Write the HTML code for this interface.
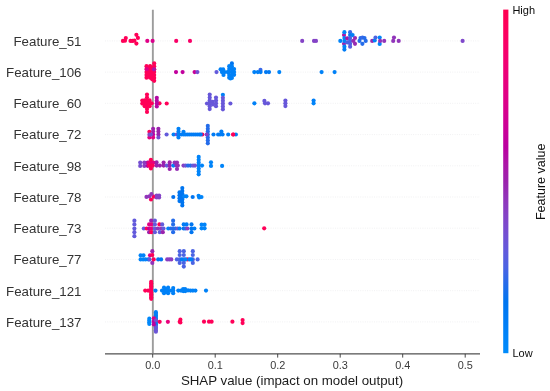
<!DOCTYPE html>
<html><head><meta charset="utf-8"><title>SHAP summary</title>
<style>
html,body{margin:0;padding:0;background:#fff;}
body{width:550px;height:391px;overflow:hidden;position:relative;font-family:"Liberation Sans",sans-serif;}
svg{position:absolute;left:0;top:0;}
text{font-family:"Liberation Sans",sans-serif;}
</style></head><body>
<svg width="550" height="391" viewBox="0 0 550 391">
<defs><linearGradient id="cb" x1="0" y1="0" x2="0" y2="1">
<stop offset="0.00" stop-color="#ff0051"/><stop offset="0.05" stop-color="#fe005c"/><stop offset="0.10" stop-color="#f90067"/><stop offset="0.15" stop-color="#f20072"/><stop offset="0.20" stop-color="#e9007c"/><stop offset="0.25" stop-color="#e00086"/><stop offset="0.30" stop-color="#d5008f"/><stop offset="0.35" stop-color="#c90098"/><stop offset="0.40" stop-color="#bb00a0"/><stop offset="0.45" stop-color="#ac16a7"/><stop offset="0.50" stop-color="#9b23ad"/><stop offset="0.55" stop-color="#9135ba"/><stop offset="0.60" stop-color="#8443c6"/><stop offset="0.65" stop-color="#754fd1"/><stop offset="0.70" stop-color="#635adb"/><stop offset="0.75" stop-color="#4b63e3"/><stop offset="0.80" stop-color="#246cea"/><stop offset="0.85" stop-color="#0075f0"/><stop offset="0.90" stop-color="#007cf5"/><stop offset="0.95" stop-color="#0084f9"/><stop offset="1.00" stop-color="#008bfb"/>
</linearGradient></defs>
<rect width="550" height="391" fill="#fff"/>
<line x1="105" x2="480" y1="40.9" y2="40.9" stroke="#dcdce0" stroke-width="0.8" stroke-dasharray="0.9 1.4" opacity="0.55"/>
<line x1="105" x2="480" y1="72.1" y2="72.1" stroke="#dcdce0" stroke-width="0.8" stroke-dasharray="0.9 1.4" opacity="0.55"/>
<line x1="105" x2="480" y1="103.3" y2="103.3" stroke="#dcdce0" stroke-width="0.8" stroke-dasharray="0.9 1.4" opacity="0.55"/>
<line x1="105" x2="480" y1="134.6" y2="134.6" stroke="#dcdce0" stroke-width="0.8" stroke-dasharray="0.9 1.4" opacity="0.55"/>
<line x1="105" x2="480" y1="165.8" y2="165.8" stroke="#dcdce0" stroke-width="0.8" stroke-dasharray="0.9 1.4" opacity="0.55"/>
<line x1="105" x2="480" y1="197.0" y2="197.0" stroke="#dcdce0" stroke-width="0.8" stroke-dasharray="0.9 1.4" opacity="0.55"/>
<line x1="105" x2="480" y1="228.2" y2="228.2" stroke="#dcdce0" stroke-width="0.8" stroke-dasharray="0.9 1.4" opacity="0.55"/>
<line x1="105" x2="480" y1="259.4" y2="259.4" stroke="#dcdce0" stroke-width="0.8" stroke-dasharray="0.9 1.4" opacity="0.55"/>
<line x1="105" x2="480" y1="290.7" y2="290.7" stroke="#dcdce0" stroke-width="0.8" stroke-dasharray="0.9 1.4" opacity="0.55"/>
<line x1="105" x2="480" y1="321.9" y2="321.9" stroke="#dcdce0" stroke-width="0.8" stroke-dasharray="0.9 1.4" opacity="0.55"/>
<line x1="152.85" x2="152.85" y1="9.8" y2="353" stroke="#9c9c9c" stroke-width="1.9"/>
<circle cx="122.9" cy="40.9" r="2.08" fill="#ff0058"/><circle cx="125.0" cy="40.7" r="2.08" fill="#ff0058"/><circle cx="125.8" cy="38.0" r="2.08" fill="#ff0058"/><circle cx="130.5" cy="40.9" r="2.08" fill="#ff0058"/><circle cx="132.4" cy="40.9" r="2.08" fill="#ff0058"/><circle cx="134.4" cy="40.7" r="2.08" fill="#ff0058"/><circle cx="136.4" cy="34.8" r="2.08" fill="#ff0058"/><circle cx="137.9" cy="37.9" r="2.08" fill="#ff0058"/><circle cx="136.4" cy="43.6" r="2.08" fill="#ff0058"/><circle cx="147.3" cy="40.9" r="2.08" fill="#e00086"/><circle cx="152.6" cy="40.9" r="2.08" fill="#d9008c"/><circle cx="176.2" cy="40.9" r="2.08" fill="#f90067"/><circle cx="190.0" cy="40.9" r="2.08" fill="#f90067"/><circle cx="302.2" cy="40.9" r="2.08" fill="#8443c6"/><circle cx="314.0" cy="40.9" r="2.08" fill="#8443c6"/><circle cx="316.0" cy="40.9" r="2.08" fill="#8443c6"/><circle cx="340.3" cy="40.9" r="2.08" fill="#0084f9"/><circle cx="344.0" cy="35.1" r="2.08" fill="#ac16a7"/><circle cx="344.0" cy="43.8" r="2.08" fill="#9b23ad"/><circle cx="344.4" cy="32.2" r="2.08" fill="#0084f9"/><circle cx="344.4" cy="38.0" r="2.08" fill="#0084f9"/><circle cx="344.4" cy="40.9" r="2.08" fill="#0084f9"/><circle cx="344.4" cy="46.7" r="2.08" fill="#0084f9"/><circle cx="344.4" cy="49.6" r="2.08" fill="#007cf5"/><circle cx="347.3" cy="38.3" r="2.08" fill="#ac16a7"/><circle cx="347.3" cy="42.4" r="2.08" fill="#4b63e3"/><circle cx="350.1" cy="32.2" r="2.08" fill="#3769e8"/><circle cx="350.1" cy="35.1" r="2.08" fill="#0079f3"/><circle cx="350.1" cy="38.0" r="2.08" fill="#4b63e3"/><circle cx="350.1" cy="40.9" r="2.08" fill="#4b63e3"/><circle cx="350.1" cy="43.8" r="2.08" fill="#4b63e3"/><circle cx="350.1" cy="46.7" r="2.08" fill="#565fe0"/><circle cx="352.6" cy="35.1" r="2.08" fill="#007ff7"/><circle cx="355.0" cy="38.0" r="2.08" fill="#972bb2"/><circle cx="353.4" cy="40.9" r="2.08" fill="#972bb2"/><circle cx="355.0" cy="43.8" r="2.08" fill="#972bb2"/><circle cx="359.5" cy="40.9" r="2.08" fill="#246cea"/><circle cx="360.5" cy="38.0" r="2.08" fill="#246cea"/><circle cx="362.4" cy="43.8" r="2.08" fill="#246cea"/><circle cx="362.5" cy="37.6" r="2.08" fill="#3769e8"/><circle cx="364.5" cy="38.0" r="2.08" fill="#246cea"/><circle cx="365.7" cy="40.9" r="2.08" fill="#246cea"/><circle cx="372.2" cy="40.9" r="2.08" fill="#972bb2"/><circle cx="374.7" cy="40.4" r="2.08" fill="#0084f9"/><circle cx="375.5" cy="37.5" r="2.08" fill="#4b63e3"/><circle cx="379.7" cy="37.5" r="2.08" fill="#0084f9"/><circle cx="379.7" cy="43.9" r="2.08" fill="#0086fa"/><circle cx="380.1" cy="40.9" r="2.08" fill="#9135ba"/><circle cx="384.2" cy="40.9" r="2.08" fill="#9135ba"/><circle cx="394.0" cy="37.5" r="2.08" fill="#9135ba"/><circle cx="393.2" cy="40.9" r="2.08" fill="#9135ba"/><circle cx="398.7" cy="40.9" r="2.08" fill="#9135ba"/><circle cx="462.6" cy="40.9" r="2.08" fill="#7f48cb"/>
<circle cx="146.5" cy="66.2" r="2.08" fill="#ff0058"/><circle cx="146.5" cy="69.1" r="2.08" fill="#ff0058"/><circle cx="146.5" cy="72.1" r="2.08" fill="#ff0058"/><circle cx="146.5" cy="74.9" r="2.08" fill="#ff0058"/><circle cx="146.5" cy="77.7" r="2.08" fill="#ff0058"/><circle cx="150.1" cy="66.2" r="2.08" fill="#ff0058"/><circle cx="150.1" cy="69.1" r="2.08" fill="#ff0058"/><circle cx="150.1" cy="72.1" r="2.08" fill="#ff0058"/><circle cx="150.1" cy="74.9" r="2.08" fill="#ff0058"/><circle cx="150.1" cy="77.7" r="2.08" fill="#ff0058"/><circle cx="148.3" cy="67.7" r="2.08" fill="#ff0058"/><circle cx="148.3" cy="70.6" r="2.08" fill="#ff0058"/><circle cx="148.3" cy="73.5" r="2.08" fill="#ff0058"/><circle cx="148.3" cy="76.4" r="2.08" fill="#ff0058"/><circle cx="154.2" cy="63.4" r="2.08" fill="#ff0058"/><circle cx="154.2" cy="66.3" r="2.08" fill="#ff0058"/><circle cx="154.2" cy="69.2" r="2.08" fill="#ff0058"/><circle cx="154.2" cy="72.1" r="2.08" fill="#ff0058"/><circle cx="154.2" cy="75.0" r="2.08" fill="#ff0058"/><circle cx="154.2" cy="77.9" r="2.08" fill="#ff0058"/><circle cx="154.2" cy="80.8" r="2.08" fill="#ff0058"/><circle cx="152.2" cy="67.7" r="2.08" fill="#ff0058"/><circle cx="152.2" cy="70.6" r="2.08" fill="#ff0058"/><circle cx="152.2" cy="73.5" r="2.08" fill="#ff0058"/><circle cx="152.2" cy="76.4" r="2.08" fill="#ff0058"/><circle cx="152.2" cy="79.3" r="2.08" fill="#ff0058"/><circle cx="146.8" cy="69.2" r="2.08" fill="#e00086"/><circle cx="154.0" cy="69.3" r="2.08" fill="#ac16a7"/><circle cx="176.0" cy="72.1" r="2.08" fill="#c1009d"/><circle cx="182.6" cy="72.1" r="2.08" fill="#c1009d"/><circle cx="194.6" cy="72.1" r="2.08" fill="#c90098"/><circle cx="197.4" cy="72.1" r="2.08" fill="#754fd1"/><circle cx="216.5" cy="72.1" r="2.08" fill="#635adb"/><circle cx="220.6" cy="69.3" r="2.08" fill="#0081f7"/><circle cx="221.9" cy="72.1" r="2.08" fill="#0081f7"/><circle cx="223.1" cy="69.3" r="2.08" fill="#0081f7"/><circle cx="223.5" cy="75.0" r="2.08" fill="#0081f7"/><circle cx="224.7" cy="72.1" r="2.08" fill="#0081f7"/><circle cx="227.6" cy="72.1" r="2.08" fill="#0081f7"/><circle cx="229.2" cy="66.2" r="2.08" fill="#0081f7"/><circle cx="229.2" cy="69.1" r="2.08" fill="#0081f7"/><circle cx="229.2" cy="72.1" r="2.08" fill="#0081f7"/><circle cx="229.2" cy="75.1" r="2.08" fill="#0081f7"/><circle cx="229.2" cy="77.7" r="2.08" fill="#0081f7"/><circle cx="231.9" cy="63.4" r="2.08" fill="#0075f0"/><circle cx="231.9" cy="66.3" r="2.08" fill="#0081f7"/><circle cx="231.9" cy="69.2" r="2.08" fill="#0081f7"/><circle cx="231.9" cy="72.1" r="2.08" fill="#0081f7"/><circle cx="231.9" cy="75.0" r="2.08" fill="#0081f7"/><circle cx="231.9" cy="77.9" r="2.08" fill="#0081f7"/><circle cx="230.5" cy="78.5" r="2.08" fill="#0081f7"/><circle cx="234.1" cy="69.1" r="2.08" fill="#0081f7"/><circle cx="234.1" cy="72.1" r="2.08" fill="#0081f7"/><circle cx="234.1" cy="74.8" r="2.08" fill="#0081f7"/><circle cx="254.3" cy="72.1" r="2.08" fill="#0081f7"/><circle cx="257.8" cy="72.1" r="2.08" fill="#0081f7"/><circle cx="260.5" cy="69.9" r="2.08" fill="#3769e8"/><circle cx="260.6" cy="72.1" r="2.08" fill="#007cf5"/><circle cx="266.0" cy="72.1" r="2.08" fill="#0079f3"/><circle cx="269.0" cy="72.1" r="2.08" fill="#0079f3"/><circle cx="279.3" cy="72.1" r="2.08" fill="#0084f9"/><circle cx="321.6" cy="72.1" r="2.08" fill="#0081f7"/><circle cx="334.6" cy="72.1" r="2.08" fill="#0081f7"/>
<circle cx="147.0" cy="94.6" r="2.08" fill="#ff0058"/><circle cx="147.0" cy="97.5" r="2.08" fill="#ff0058"/><circle cx="147.0" cy="100.4" r="2.08" fill="#ff0058"/><circle cx="147.0" cy="103.3" r="2.08" fill="#ff0058"/><circle cx="147.0" cy="106.2" r="2.08" fill="#ff0058"/><circle cx="147.0" cy="109.1" r="2.08" fill="#ff0058"/><circle cx="147.0" cy="112.0" r="2.08" fill="#ff0058"/><circle cx="142.3" cy="100.5" r="2.08" fill="#ff0058"/><circle cx="142.3" cy="103.6" r="2.08" fill="#ff0058"/><circle cx="144.7" cy="100.4" r="2.08" fill="#ff0058"/><circle cx="144.7" cy="103.3" r="2.08" fill="#ff0058"/><circle cx="144.7" cy="106.2" r="2.08" fill="#ff0058"/><circle cx="149.6" cy="100.4" r="2.08" fill="#ff0058"/><circle cx="149.6" cy="103.3" r="2.08" fill="#ff0058"/><circle cx="149.6" cy="106.2" r="2.08" fill="#ff0058"/><circle cx="151.7" cy="103.3" r="2.08" fill="#ff0058"/><circle cx="159.5" cy="103.3" r="2.08" fill="#ff0058"/><circle cx="166.7" cy="103.5" r="2.08" fill="#ff0058"/><circle cx="156.8" cy="97.8" r="2.08" fill="#b509a3"/><circle cx="156.8" cy="100.7" r="2.08" fill="#b509a3"/><circle cx="156.8" cy="103.5" r="2.08" fill="#b509a3"/><circle cx="156.8" cy="106.4" r="2.08" fill="#b509a3"/><circle cx="209.7" cy="94.6" r="2.08" fill="#6757d9"/><circle cx="209.7" cy="97.5" r="2.08" fill="#6757d9"/><circle cx="209.7" cy="100.4" r="2.08" fill="#6757d9"/><circle cx="209.7" cy="103.3" r="2.08" fill="#6757d9"/><circle cx="209.7" cy="106.2" r="2.08" fill="#6757d9"/><circle cx="209.7" cy="109.1" r="2.08" fill="#6757d9"/><circle cx="207.0" cy="103.5" r="2.08" fill="#6757d9"/><circle cx="212.7" cy="101.8" r="2.08" fill="#6757d9"/><circle cx="212.9" cy="104.5" r="2.08" fill="#6757d9"/><circle cx="216.0" cy="97.5" r="2.08" fill="#6757d9"/><circle cx="216.0" cy="100.4" r="2.08" fill="#6757d9"/><circle cx="216.0" cy="103.3" r="2.08" fill="#6757d9"/><circle cx="216.0" cy="106.2" r="2.08" fill="#6757d9"/><circle cx="222.9" cy="94.8" r="2.08" fill="#0081f7"/><circle cx="222.9" cy="97.8" r="2.08" fill="#6757d9"/><circle cx="222.9" cy="100.7" r="2.08" fill="#6757d9"/><circle cx="222.9" cy="103.5" r="2.08" fill="#6757d9"/><circle cx="222.9" cy="106.4" r="2.08" fill="#6757d9"/><circle cx="222.9" cy="109.3" r="2.08" fill="#6757d9"/><circle cx="230.4" cy="103.5" r="2.08" fill="#6757d9"/><circle cx="254.4" cy="103.3" r="2.08" fill="#0081f7"/><circle cx="264.4" cy="100.9" r="2.08" fill="#6757d9"/><circle cx="265.0" cy="103.3" r="2.08" fill="#6757d9"/><circle cx="268.0" cy="103.3" r="2.08" fill="#6757d9"/><circle cx="285.4" cy="100.5" r="2.08" fill="#6757d9"/><circle cx="285.4" cy="103.3" r="2.08" fill="#6757d9"/><circle cx="285.4" cy="106.1" r="2.08" fill="#6757d9"/><circle cx="313.6" cy="100.5" r="2.08" fill="#007ff7"/><circle cx="313.6" cy="103.3" r="2.08" fill="#0084f9"/>
<circle cx="202.3" cy="134.5" r="2.08" fill="#ff0058"/><circle cx="233.2" cy="134.5" r="2.08" fill="#ff0058"/><circle cx="149.4" cy="131.8" r="2.08" fill="#ff0058"/><circle cx="149.4" cy="137.5" r="2.08" fill="#e9007c"/><circle cx="153.1" cy="128.8" r="2.08" fill="#9b23ad"/><circle cx="153.1" cy="131.6" r="2.08" fill="#a21fab"/><circle cx="153.1" cy="134.5" r="2.08" fill="#bb00a0"/><circle cx="153.1" cy="137.5" r="2.08" fill="#e00086"/><circle cx="149.4" cy="134.7" r="2.08" fill="#8443c6"/><circle cx="151.0" cy="134.5" r="2.08" fill="#754fd1"/><circle cx="158.4" cy="128.8" r="2.08" fill="#9b23ad"/><circle cx="158.4" cy="131.6" r="2.08" fill="#9b23ad"/><circle cx="158.4" cy="134.5" r="2.08" fill="#9b23ad"/><circle cx="158.4" cy="137.5" r="2.08" fill="#754fd1"/><circle cx="166.6" cy="134.5" r="2.08" fill="#635adb"/><circle cx="173.6" cy="134.5" r="2.08" fill="#0081f7"/><circle cx="176.8" cy="134.5" r="2.08" fill="#754fd1"/><circle cx="178.5" cy="128.8" r="2.08" fill="#0081f7"/><circle cx="178.5" cy="131.6" r="2.08" fill="#0081f7"/><circle cx="178.5" cy="134.5" r="2.08" fill="#0081f7"/><circle cx="178.5" cy="137.5" r="2.08" fill="#0081f7"/><circle cx="181.5" cy="134.5" r="2.08" fill="#007cf5"/><circle cx="185.5" cy="134.5" r="2.08" fill="#007cf5"/><circle cx="187.5" cy="134.5" r="2.08" fill="#007cf5"/><circle cx="189.5" cy="134.5" r="2.08" fill="#007cf5"/><circle cx="191.5" cy="134.5" r="2.08" fill="#007cf5"/><circle cx="193.5" cy="134.5" r="2.08" fill="#007cf5"/><circle cx="195.5" cy="134.5" r="2.08" fill="#007cf5"/><circle cx="197.5" cy="134.5" r="2.08" fill="#007cf5"/><circle cx="199.5" cy="134.5" r="2.08" fill="#007cf5"/><circle cx="200.8" cy="134.5" r="2.08" fill="#007cf5"/><circle cx="183.5" cy="131.8" r="2.08" fill="#007ff7"/><circle cx="183.6" cy="134.5" r="2.08" fill="#007ff7"/><circle cx="207.8" cy="125.9" r="2.08" fill="#246cea"/><circle cx="207.8" cy="128.8" r="2.08" fill="#246cea"/><circle cx="207.8" cy="131.6" r="2.08" fill="#246cea"/><circle cx="207.8" cy="134.5" r="2.08" fill="#246cea"/><circle cx="207.8" cy="137.5" r="2.08" fill="#246cea"/><circle cx="207.8" cy="140.4" r="2.08" fill="#246cea"/><circle cx="207.8" cy="143.3" r="2.08" fill="#246cea"/><circle cx="206.6" cy="134.5" r="2.08" fill="#8443c6"/><circle cx="213.5" cy="134.5" r="2.08" fill="#007cf5"/><circle cx="218.1" cy="134.5" r="2.08" fill="#007cf5"/><circle cx="220.1" cy="134.5" r="2.08" fill="#007cf5"/><circle cx="221.4" cy="131.6" r="2.08" fill="#007cf5"/><circle cx="222.6" cy="134.5" r="2.08" fill="#007cf5"/><circle cx="228.2" cy="134.5" r="2.08" fill="#007ff7"/><circle cx="235.9" cy="134.5" r="2.08" fill="#007ff7"/><circle cx="233.2" cy="134.5" r="2.08" fill="#ff0058"/>
<circle cx="140.2" cy="162.6" r="2.08" fill="#754fd1"/><circle cx="140.2" cy="165.9" r="2.08" fill="#754fd1"/><circle cx="144.3" cy="162.6" r="2.08" fill="#8a3ec1"/><circle cx="144.3" cy="165.9" r="2.08" fill="#8a3ec1"/><circle cx="147.6" cy="162.6" r="2.08" fill="#ac16a7"/><circle cx="147.6" cy="165.8" r="2.08" fill="#bb00a0"/><circle cx="150.9" cy="159.8" r="2.08" fill="#ff0058"/><circle cx="150.9" cy="162.7" r="2.08" fill="#ff0058"/><circle cx="150.9" cy="165.6" r="2.08" fill="#ff0058"/><circle cx="150.9" cy="168.5" r="2.08" fill="#ff0058"/><circle cx="148.8" cy="162.6" r="2.08" fill="#e9007c"/><circle cx="153.3" cy="162.6" r="2.08" fill="#e9007c"/><circle cx="149.2" cy="165.6" r="2.08" fill="#ff0058"/><circle cx="152.8" cy="165.6" r="2.08" fill="#ff0058"/><circle cx="156.6" cy="162.4" r="2.08" fill="#9b23ad"/><circle cx="156.6" cy="165.6" r="2.08" fill="#9b23ad"/><circle cx="159.9" cy="165.6" r="2.08" fill="#9b23ad"/><circle cx="163.6" cy="162.6" r="2.08" fill="#9b23ad"/><circle cx="163.6" cy="165.6" r="2.08" fill="#9b23ad"/><circle cx="166.8" cy="165.6" r="2.08" fill="#635adb"/><circle cx="169.7" cy="162.4" r="2.08" fill="#9b23ad"/><circle cx="169.7" cy="165.6" r="2.08" fill="#9b23ad"/><circle cx="169.7" cy="169.0" r="2.08" fill="#9b23ad"/><circle cx="173.4" cy="165.6" r="2.08" fill="#0084f9"/><circle cx="174.6" cy="162.6" r="2.08" fill="#9135ba"/><circle cx="177.0" cy="162.6" r="2.08" fill="#952fb5"/><circle cx="177.8" cy="165.6" r="2.08" fill="#952fb5"/><circle cx="177.0" cy="169.0" r="2.08" fill="#952fb5"/><circle cx="176.6" cy="165.6" r="2.08" fill="#952fb5"/><circle cx="183.5" cy="165.6" r="2.08" fill="#8a3ec1"/><circle cx="185.6" cy="165.6" r="2.08" fill="#6b55d7"/><circle cx="188.0" cy="165.6" r="2.08" fill="#246cea"/><circle cx="190.5" cy="165.6" r="2.08" fill="#246cea"/><circle cx="193.0" cy="165.6" r="2.08" fill="#635adb"/><circle cx="195.0" cy="165.6" r="2.08" fill="#754fd1"/><circle cx="198.7" cy="156.9" r="2.08" fill="#0084f9"/><circle cx="198.7" cy="159.8" r="2.08" fill="#0084f9"/><circle cx="198.7" cy="162.7" r="2.08" fill="#0084f9"/><circle cx="198.7" cy="165.6" r="2.08" fill="#0084f9"/><circle cx="198.7" cy="168.5" r="2.08" fill="#0084f9"/><circle cx="198.7" cy="171.4" r="2.08" fill="#0084f9"/><circle cx="198.7" cy="174.3" r="2.08" fill="#0084f9"/><circle cx="202.0" cy="165.6" r="2.08" fill="#0084f9"/><circle cx="211.0" cy="162.3" r="2.08" fill="#0084f9"/><circle cx="211.0" cy="165.9" r="2.08" fill="#0084f9"/><circle cx="222.1" cy="165.9" r="2.08" fill="#0084f9"/>
<circle cx="151.0" cy="199.5" r="2.08" fill="#ff0058"/><circle cx="153.8" cy="196.7" r="2.08" fill="#ff0058"/><circle cx="146.5" cy="196.9" r="2.08" fill="#9135ba"/><circle cx="149.3" cy="196.3" r="2.08" fill="#9135ba"/><circle cx="151.4" cy="194.0" r="2.08" fill="#9135ba"/><circle cx="156.7" cy="195.5" r="2.08" fill="#8443c6"/><circle cx="159.1" cy="195.5" r="2.08" fill="#8443c6"/><circle cx="156.7" cy="197.5" r="2.08" fill="#8443c6"/><circle cx="159.1" cy="197.5" r="2.08" fill="#8443c6"/><circle cx="173.3" cy="197.0" r="2.08" fill="#0070ed"/><circle cx="179.5" cy="192.4" r="2.08" fill="#0075f0"/><circle cx="179.5" cy="195.3" r="2.08" fill="#0075f0"/><circle cx="179.5" cy="198.2" r="2.08" fill="#0075f0"/><circle cx="179.5" cy="201.1" r="2.08" fill="#0075f0"/><circle cx="182.3" cy="188.0" r="2.08" fill="#0075f0"/><circle cx="182.3" cy="190.9" r="2.08" fill="#0075f0"/><circle cx="182.3" cy="193.8" r="2.08" fill="#0075f0"/><circle cx="182.3" cy="196.7" r="2.08" fill="#0075f0"/><circle cx="182.3" cy="199.6" r="2.08" fill="#0075f0"/><circle cx="182.3" cy="202.5" r="2.08" fill="#0075f0"/><circle cx="182.3" cy="205.4" r="2.08" fill="#0075f0"/><circle cx="184.3" cy="196.3" r="2.08" fill="#0084f9"/><circle cx="186.4" cy="196.3" r="2.08" fill="#0084f9"/><circle cx="192.7" cy="197.0" r="2.08" fill="#0075f0"/><circle cx="198.6" cy="195.8" r="2.08" fill="#0084f9"/><circle cx="199.2" cy="197.5" r="2.08" fill="#0084f9"/><circle cx="201.5" cy="197.0" r="2.08" fill="#0084f9"/>
<circle cx="134.4" cy="220.7" r="2.08" fill="#635adb"/><circle cx="134.4" cy="224.4" r="2.08" fill="#635adb"/><circle cx="134.4" cy="228.5" r="2.08" fill="#635adb"/><circle cx="134.4" cy="232.2" r="2.08" fill="#635adb"/><circle cx="134.4" cy="236.2" r="2.08" fill="#635adb"/><circle cx="143.8" cy="228.5" r="2.08" fill="#635adb"/><circle cx="146.7" cy="228.5" r="2.08" fill="#ff0058"/><circle cx="149.1" cy="224.4" r="2.08" fill="#e00086"/><circle cx="149.1" cy="232.2" r="2.08" fill="#9b23ad"/><circle cx="149.3" cy="228.5" r="2.08" fill="#bb00a0"/><circle cx="151.2" cy="220.7" r="2.08" fill="#9b23ad"/><circle cx="151.2" cy="224.4" r="2.08" fill="#e60080"/><circle cx="151.2" cy="228.5" r="2.08" fill="#e60080"/><circle cx="151.2" cy="232.2" r="2.08" fill="#ff0058"/><circle cx="154.9" cy="220.7" r="2.08" fill="#635adb"/><circle cx="154.9" cy="224.4" r="2.08" fill="#635adb"/><circle cx="154.9" cy="228.5" r="2.08" fill="#635adb"/><circle cx="154.9" cy="232.2" r="2.08" fill="#635adb"/><circle cx="159.4" cy="224.4" r="2.08" fill="#ff0058"/><circle cx="162.2" cy="224.4" r="2.08" fill="#635adb"/><circle cx="157.7" cy="228.5" r="2.08" fill="#9135ba"/><circle cx="161.0" cy="228.5" r="2.08" fill="#9135ba"/><circle cx="163.5" cy="228.5" r="2.08" fill="#635adb"/><circle cx="159.8" cy="232.2" r="2.08" fill="#635adb"/><circle cx="162.8" cy="232.2" r="2.08" fill="#9b23ad"/><circle cx="168.3" cy="228.5" r="2.08" fill="#0084f9"/><circle cx="173.1" cy="220.7" r="2.08" fill="#246cea"/><circle cx="173.1" cy="224.4" r="2.08" fill="#246cea"/><circle cx="173.1" cy="228.5" r="2.08" fill="#246cea"/><circle cx="173.1" cy="232.2" r="2.08" fill="#246cea"/><circle cx="170.8" cy="228.5" r="2.08" fill="#246cea"/><circle cx="175.4" cy="228.5" r="2.08" fill="#246cea"/><circle cx="177.6" cy="228.5" r="2.08" fill="#635adb"/><circle cx="179.6" cy="228.5" r="2.08" fill="#007cf5"/><circle cx="183.7" cy="224.4" r="2.08" fill="#007cf5"/><circle cx="186.6" cy="224.4" r="2.08" fill="#007cf5"/><circle cx="183.7" cy="228.5" r="2.08" fill="#0075f0"/><circle cx="185.5" cy="228.5" r="2.08" fill="#246cea"/><circle cx="187.4" cy="228.5" r="2.08" fill="#8a3ec1"/><circle cx="191.5" cy="224.4" r="2.08" fill="#0075f0"/><circle cx="191.5" cy="228.5" r="2.08" fill="#0075f0"/><circle cx="191.5" cy="232.2" r="2.08" fill="#0075f0"/><circle cx="194.4" cy="228.5" r="2.08" fill="#007cf5"/><circle cx="201.6" cy="224.7" r="2.08" fill="#0084f9"/><circle cx="204.6" cy="224.7" r="2.08" fill="#0084f9"/><circle cx="201.6" cy="228.3" r="2.08" fill="#0084f9"/><circle cx="204.6" cy="228.3" r="2.08" fill="#0084f9"/><circle cx="264.2" cy="228.3" r="2.08" fill="#ff0058"/>
<circle cx="187.5" cy="259.4" r="2.08" fill="#ff0058"/><circle cx="140.6" cy="255.3" r="2.08" fill="#0084f9"/><circle cx="143.5" cy="255.3" r="2.08" fill="#0084f9"/><circle cx="140.6" cy="259.4" r="2.08" fill="#0084f9"/><circle cx="143.1" cy="259.4" r="2.08" fill="#0084f9"/><circle cx="145.5" cy="259.4" r="2.08" fill="#0084f9"/><circle cx="148.4" cy="259.4" r="2.08" fill="#007cf5"/><circle cx="149.5" cy="259.4" r="2.08" fill="#635adb"/><circle cx="152.3" cy="251.2" r="2.08" fill="#9b23ad"/><circle cx="150.0" cy="255.3" r="2.08" fill="#e00086"/><circle cx="152.3" cy="255.0" r="2.08" fill="#ff0058"/><circle cx="152.3" cy="262.9" r="2.08" fill="#9135ba"/><circle cx="153.7" cy="259.4" r="2.08" fill="#ff0058"/><circle cx="158.2" cy="259.4" r="2.08" fill="#0075f0"/><circle cx="161.1" cy="259.4" r="2.08" fill="#0075f0"/><circle cx="167.2" cy="259.4" r="2.08" fill="#8a3ec1"/><circle cx="169.3" cy="259.4" r="2.08" fill="#8a3ec1"/><circle cx="171.3" cy="259.4" r="2.08" fill="#8a3ec1"/><circle cx="176.9" cy="259.4" r="2.08" fill="#4b63e3"/><circle cx="179.7" cy="251.2" r="2.08" fill="#4b63e3"/><circle cx="179.7" cy="255.0" r="2.08" fill="#4b63e3"/><circle cx="179.7" cy="259.4" r="2.08" fill="#4b63e3"/><circle cx="179.7" cy="262.9" r="2.08" fill="#4b63e3"/><circle cx="183.8" cy="251.2" r="2.08" fill="#4b63e3"/><circle cx="183.8" cy="255.0" r="2.08" fill="#4b63e3"/><circle cx="183.8" cy="259.4" r="2.08" fill="#4b63e3"/><circle cx="183.8" cy="262.9" r="2.08" fill="#4b63e3"/><circle cx="183.8" cy="266.6" r="2.08" fill="#4b63e3"/><circle cx="181.8" cy="259.4" r="2.08" fill="#007cf5"/><circle cx="185.5" cy="259.4" r="2.08" fill="#0084f9"/><circle cx="189.5" cy="259.4" r="2.08" fill="#0084f9"/><circle cx="192.8" cy="251.2" r="2.08" fill="#4b63e3"/><circle cx="192.8" cy="255.0" r="2.08" fill="#4b63e3"/><circle cx="192.8" cy="259.4" r="2.08" fill="#4b63e3"/><circle cx="192.8" cy="262.9" r="2.08" fill="#4b63e3"/><circle cx="191.2" cy="259.4" r="2.08" fill="#007cf5"/><circle cx="197.6" cy="259.4" r="2.08" fill="#4b63e3"/>
<circle cx="151.2" cy="281.8" r="2.08" fill="#ff0058"/><circle cx="151.2" cy="283.3" r="2.08" fill="#ff0058"/><circle cx="151.2" cy="284.9" r="2.08" fill="#ff0058"/><circle cx="151.2" cy="286.4" r="2.08" fill="#ff0058"/><circle cx="151.2" cy="288.0" r="2.08" fill="#ff0058"/><circle cx="151.2" cy="289.5" r="2.08" fill="#ff0058"/><circle cx="151.2" cy="291.1" r="2.08" fill="#ff0058"/><circle cx="151.2" cy="292.6" r="2.08" fill="#ff0058"/><circle cx="151.2" cy="294.2" r="2.08" fill="#ff0058"/><circle cx="151.2" cy="295.7" r="2.08" fill="#ff0058"/><circle cx="151.2" cy="297.3" r="2.08" fill="#ff0058"/><circle cx="151.2" cy="298.8" r="2.08" fill="#ff0058"/><circle cx="145.2" cy="290.6" r="2.08" fill="#ff0058"/><circle cx="148.1" cy="290.6" r="2.08" fill="#ff0058"/><circle cx="155.5" cy="290.6" r="2.08" fill="#0081f7"/><circle cx="162.0" cy="290.6" r="2.08" fill="#0081f7"/><circle cx="164.0" cy="287.7" r="2.08" fill="#0081f7"/><circle cx="164.0" cy="290.6" r="2.08" fill="#0081f7"/><circle cx="164.0" cy="293.2" r="2.08" fill="#0081f7"/><circle cx="166.0" cy="289.0" r="2.08" fill="#0081f7"/><circle cx="166.0" cy="291.7" r="2.08" fill="#0081f7"/><circle cx="168.1" cy="287.7" r="2.08" fill="#0081f7"/><circle cx="168.1" cy="290.6" r="2.08" fill="#0081f7"/><circle cx="168.1" cy="293.2" r="2.08" fill="#0081f7"/><circle cx="171.0" cy="290.6" r="2.08" fill="#0081f7"/><circle cx="173.2" cy="288.0" r="2.08" fill="#0081f7"/><circle cx="173.2" cy="290.6" r="2.08" fill="#0081f7"/><circle cx="173.2" cy="293.2" r="2.08" fill="#0081f7"/><circle cx="178.3" cy="290.6" r="2.08" fill="#0081f7"/><circle cx="181.0" cy="290.6" r="2.08" fill="#0081f7"/><circle cx="183.1" cy="289.2" r="2.08" fill="#0081f7"/><circle cx="185.1" cy="289.2" r="2.08" fill="#0081f7"/><circle cx="183.3" cy="291.1" r="2.08" fill="#0081f7"/><circle cx="185.3" cy="291.1" r="2.08" fill="#0081f7"/><circle cx="188.0" cy="290.4" r="2.08" fill="#0081f7"/><circle cx="190.5" cy="290.6" r="2.08" fill="#0081f7"/><circle cx="192.9" cy="290.6" r="2.08" fill="#0081f7"/><circle cx="195.4" cy="290.6" r="2.08" fill="#0081f7"/><circle cx="206.0" cy="290.6" r="2.08" fill="#0081f7"/>
<circle cx="149.3" cy="318.7" r="2.08" fill="#0088fa"/><circle cx="149.3" cy="320.5" r="2.08" fill="#0088fa"/><circle cx="149.3" cy="322.3" r="2.08" fill="#0088fa"/><circle cx="149.3" cy="323.9" r="2.08" fill="#0088fa"/><circle cx="155.9" cy="312.2" r="2.08" fill="#007ff7"/><circle cx="155.9" cy="313.7" r="2.08" fill="#007ff7"/><circle cx="155.9" cy="315.2" r="2.08" fill="#007ff7"/><circle cx="155.9" cy="316.7" r="2.08" fill="#007ff7"/><circle cx="155.9" cy="318.2" r="2.08" fill="#007ff7"/><circle cx="155.9" cy="319.7" r="2.08" fill="#007ff7"/><circle cx="155.9" cy="321.2" r="2.08" fill="#007ff7"/><circle cx="155.9" cy="322.7" r="2.08" fill="#007ff7"/><circle cx="155.9" cy="324.2" r="2.08" fill="#0079f3"/><circle cx="155.9" cy="325.7" r="2.08" fill="#246cea"/><circle cx="155.9" cy="327.2" r="2.08" fill="#635adb"/><circle cx="155.9" cy="328.7" r="2.08" fill="#635adb"/><circle cx="155.9" cy="330.2" r="2.08" fill="#6b55d7"/><circle cx="155.9" cy="331.7" r="2.08" fill="#6b55d7"/><circle cx="153.8" cy="318.3" r="2.08" fill="#e00086"/><circle cx="153.8" cy="321.6" r="2.08" fill="#bb00a0"/><circle cx="153.8" cy="324.5" r="2.08" fill="#bb00a0"/><circle cx="156.0" cy="320.3" r="2.08" fill="#754fd1"/><circle cx="159.7" cy="321.8" r="2.08" fill="#fc0061"/><circle cx="167.9" cy="321.8" r="2.08" fill="#e9007c"/><circle cx="179.7" cy="321.8" r="2.08" fill="#ff0058"/><circle cx="180.4" cy="319.7" r="2.08" fill="#ff0058"/><circle cx="180.4" cy="322.5" r="2.08" fill="#ff0058"/><circle cx="204.0" cy="321.7" r="2.08" fill="#ff0058"/><circle cx="209.0" cy="321.7" r="2.08" fill="#ff0058"/><circle cx="211.6" cy="321.7" r="2.08" fill="#ff0058"/><circle cx="232.4" cy="321.7" r="2.08" fill="#ff0058"/><circle cx="242.6" cy="320.1" r="2.08" fill="#ff0058"/><circle cx="242.6" cy="323.1" r="2.08" fill="#ff0058"/>
<line x1="105" x2="480" y1="353.9" y2="353.9" stroke="#262626" stroke-width="1"/>
<line x1="152.7" x2="152.7" y1="353.9" y2="357.6" stroke="#333" stroke-width="0.9"/><text x="152.7" y="369.3" font-size="10.9" fill="#3a3a3a" text-anchor="middle">0.0</text>
<line x1="215.2" x2="215.2" y1="353.9" y2="357.6" stroke="#333" stroke-width="0.9"/><text x="215.2" y="369.3" font-size="10.9" fill="#3a3a3a" text-anchor="middle">0.1</text>
<line x1="277.7" x2="277.7" y1="353.9" y2="357.6" stroke="#333" stroke-width="0.9"/><text x="277.7" y="369.3" font-size="10.9" fill="#3a3a3a" text-anchor="middle">0.2</text>
<line x1="340.2" x2="340.2" y1="353.9" y2="357.6" stroke="#333" stroke-width="0.9"/><text x="340.2" y="369.3" font-size="10.9" fill="#3a3a3a" text-anchor="middle">0.3</text>
<line x1="402.7" x2="402.7" y1="353.9" y2="357.6" stroke="#333" stroke-width="0.9"/><text x="402.7" y="369.3" font-size="10.9" fill="#3a3a3a" text-anchor="middle">0.4</text>
<line x1="465.2" x2="465.2" y1="353.9" y2="357.6" stroke="#333" stroke-width="0.9"/><text x="465.2" y="369.3" font-size="10.9" fill="#3a3a3a" text-anchor="middle">0.5</text>
<text x="292" y="385.4" font-size="13.3" fill="#1c1c1c" text-anchor="middle">SHAP value (impact on model output)</text>
<text x="81.5" y="45.7" font-size="13.3" fill="#333" text-anchor="end">Feature_51</text>
<text x="81.5" y="76.9" font-size="13.3" fill="#333" text-anchor="end">Feature_106</text>
<text x="81.5" y="108.1" font-size="13.3" fill="#333" text-anchor="end">Feature_60</text>
<text x="81.5" y="139.4" font-size="13.3" fill="#333" text-anchor="end">Feature_72</text>
<text x="81.5" y="170.6" font-size="13.3" fill="#333" text-anchor="end">Feature_98</text>
<text x="81.5" y="201.8" font-size="13.3" fill="#333" text-anchor="end">Feature_78</text>
<text x="81.5" y="233.0" font-size="13.3" fill="#333" text-anchor="end">Feature_73</text>
<text x="81.5" y="264.2" font-size="13.3" fill="#333" text-anchor="end">Feature_77</text>
<text x="81.5" y="295.5" font-size="13.3" fill="#333" text-anchor="end">Feature_121</text>
<text x="81.5" y="326.7" font-size="13.3" fill="#333" text-anchor="end">Feature_137</text>
<rect x="503.2" y="9.6" width="5.2" height="343.6" fill="url(#cb)"/>
<text x="512.4" y="14" font-size="11" fill="#0a0a0a">High</text>
<text x="512.4" y="357.1" font-size="11" fill="#0a0a0a">Low</text>
<text transform="translate(544.7,181.8) rotate(-90)" font-size="12.5" fill="#111" text-anchor="middle">Feature value</text>
</svg></body></html>
